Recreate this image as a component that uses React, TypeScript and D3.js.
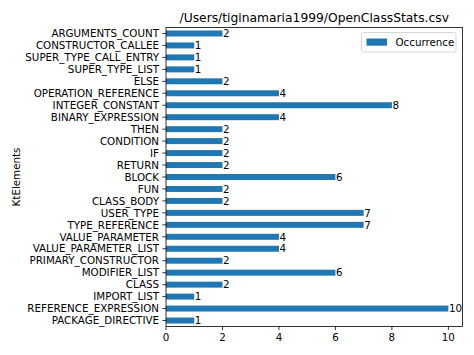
import React from "react";
import * as d3 from "d3";

const categories = [
  "ARGUMENTS_COUNT",
  "CONSTRUCTOR_CALLEE",
  "SUPER_TYPE_CALL_ENTRY",
  "SUPER_TYPE_LIST",
  "ELSE",
  "OPERATION_REFERENCE",
  "INTEGER_CONSTANT",
  "BINARY_EXPRESSION",
  "THEN",
  "CONDITION",
  "IF",
  "RETURN",
  "BLOCK",
  "FUN",
  "CLASS_BODY",
  "USER_TYPE",
  "TYPE_REFERENCE",
  "VALUE_PARAMETER",
  "VALUE_PARAMETER_LIST",
  "PRIMARY_CONSTRUCTOR",
  "MODIFIER_LIST",
  "CLASS",
  "IMPORT_LIST",
  "REFERENCE_EXPRESSION",
  "PACKAGE_DIRECTIVE",
];
const occurrence = [2, 1, 1, 1, 2, 4, 8, 4, 2, 2, 2, 2, 6, 2, 2, 7, 7, 4, 4, 2, 6, 2, 1, 10, 1];
const xTicks = [0, 2, 4, 6, 8, 10];
const title = "/Users/tiginamaria1999/OpenClassStats.csv";
const yLabel = "KtElements";
const legendLabel = "Occurrence";

const W = 474;
const H = 355;
const left = 166;
const right = 462.5;
const top = 27.5;
const bottom = 326.5;
const color = "#1f77b4";
const font = "DejaVu Sans, sans-serif";
const fs = 10.3;

export default function App() {
  const x = d3.scaleLinear().domain([0, 10.5]).range([left, right]);
  const y = d3
    .scaleBand<string>()
    .domain(categories)
    .range([top, bottom])
    .paddingInner(0.5)
    .paddingOuter(0.25);
  const bh = y.bandwidth();
  return (
    <svg
      width={W}
      height={H}
      style={{ position: "absolute", left: 0, top: 0, background: "#fff" }}
      fontFamily={font}
    >
      <rect x={0} y={0} width={W} height={H} fill="#fff" />
      {categories.map((c, i) => {
        const yc = (y(c) as number) + bh / 2;
        return (
          <g key={c}>
            <rect x={x(0)} y={yc - bh / 2} width={x(occurrence[i]) - x(0)} height={bh} fill={color} />
            <text x={x(occurrence[i]) + 0.5} y={yc} dy="0.36em" fontSize={fs} fill="#000">
              {occurrence[i]}
            </text>
            <line x1={left - 3.6} x2={left} y1={yc} y2={yc} stroke="#000" strokeWidth={0.8} />
            <text x={left - 7} y={yc} dy="0.36em" textAnchor="end" fontSize={fs} fill="#000">
              {c}
            </text>
          </g>
        );
      })}
      {xTicks.map((t) => (
        <g key={t}>
          <line x1={x(t)} x2={x(t)} y1={bottom} y2={bottom + 3.6} stroke="#000" strokeWidth={0.8} />
          <text x={x(t)} y={bottom + 7} dy="0.76em" textAnchor="middle" fontSize={fs} fill="#000">
            {t}
          </text>
        </g>
      ))}
      <rect x={left} y={top} width={right - left} height={bottom - top} fill="none" stroke="#000" strokeWidth={0.8} />
      <text x={(left + right) / 2} y={top - 6} textAnchor="middle" fontSize={12.3} fill="#000">
        {title}
      </text>
      <text
        transform={`translate(${16},${(top + bottom) / 2}) rotate(-90)`}
        dy="0.36em"
        textAnchor="middle"
        fontSize={fs}
        fill="#000"
      >
        {yLabel}
      </text>
      <g>
        <rect x={361.5} y={32.5} width={94.5} height={19.5} rx={2} fill="#fff" fillOpacity={0.8} stroke="#ccc" strokeWidth={0.8} />
        <rect x={366.5} y={38.5} width={20.5} height={7.2} fill={color} />
        <text x={395.5} y={42.2} dy="0.36em" fontSize={fs} fill="#000">
          {legendLabel}
        </text>
      </g>
    </svg>
  );
}
